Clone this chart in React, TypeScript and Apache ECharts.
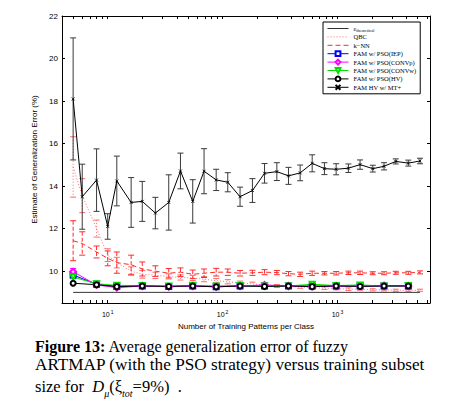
import React, { useEffect, useRef } from 'react';
import * as echarts from 'echarts';

// ---------- data ----------
const trainingSizes = [5, 6, 8, 10, 12, 16, 20, 26, 34, 43, 55, 69, 88, 111, 142, 182, 232, 297, 375, 474, 603, 771, 975, 1247, 1575, 2032, 2547, 3220, 4143, 5240];
const psoSizes = [5, 8, 12, 20, 34, 55, 88, 142, 232, 375, 603, 975, 1575, 2547, 4143];
const theoreticalSizes = [5, 5240];
const theoreticalError = [9.0, 9.0];

const qbcMean = [14.9, 13.55, 12.0, 10.75, 10.4, 10.0, 9.85, 9.8, 9.75, 9.7, 9.68, 9.62, 9.55, 9.5, 9.45, 9.4, 9.35, 9.3, 9.28, 9.25, 9.22, 9.2, 9.18, 9.15, 9.15, 9.12, 9.12, 9.1, 9.1, 9.1];
const qbcErr = [1.42, 0.8, 0.4, 0.3, 0.25, 0.2, 0.18, 0.15, 0.12, 0.12, 0.12, 0.12, 0.1, 0.1, 0.08, 0.08, 0.08, 0.07, 0.07, 0.06, 0.06, 0.06, 0.06, 0.06, 0.05, 0.05, 0.05, 0.05, 0.05, 0.05];
const knnMean = [11.43, 11.3, 10.9, 10.6, 10.4, 10.3, 10.1, 10.0, 9.9, 9.95, 9.85, 9.9, 9.95, 9.95, 9.9, 9.92, 9.95, 9.93, 9.88, 9.85, 9.9, 9.9, 9.9, 9.92, 9.92, 9.9, 9.9, 9.92, 9.92, 9.94];
const knnErr = [0.94, 0.55, 0.28, 0.35, 0.5, 0.45, 0.33, 0.25, 0.22, 0.2, 0.2, 0.2, 0.18, 0.15, 0.13, 0.12, 0.12, 0.1, 0.1, 0.1, 0.1, 0.08, 0.08, 0.08, 0.08, 0.07, 0.07, 0.07, 0.07, 0.07];

const iepMean = [9.82, 9.38, 9.28, 9.3, 9.28, 9.3, 9.27, 9.3, 9.3, 9.3, 9.3, 9.3, 9.3, 9.3, 9.3];
const iepErr = [0.1, 0.04, 0.04, 0.04, 0.04, 0.04, 0.04, 0.04, 0.04, 0.04, 0.04, 0.04, 0.04, 0.04, 0.04];
const convpMean = [9.97, 9.35, 9.22, 9.3, 9.26, 9.3, 9.26, 9.3, 9.35, 9.3, 9.28, 9.3, 9.3, 9.32, 9.3];
const convpErr = [0.15, 0.04, 0.04, 0.04, 0.04, 0.04, 0.04, 0.04, 0.05, 0.04, 0.04, 0.04, 0.04, 0.04, 0.04];
const convwMean = [9.72, 9.4, 9.33, 9.32, 9.3, 9.33, 9.3, 9.32, 9.3, 9.3, 9.38, 9.32, 9.35, 9.3, 9.32];
const convwErr = [0.08, 0.04, 0.04, 0.04, 0.04, 0.04, 0.04, 0.04, 0.04, 0.04, 0.05, 0.04, 0.04, 0.04, 0.04];
const hvMean = [9.43, 9.36, 9.27, 9.3, 9.28, 9.3, 9.26, 9.3, 9.28, 9.3, 9.27, 9.3, 9.28, 9.3, 9.3];
const hvErr = [0.05, 0.04, 0.04, 0.04, 0.04, 0.04, 0.04, 0.04, 0.04, 0.04, 0.04, 0.04, 0.04, 0.04, 0.04];

const mtMean = [18.1, 13.5, 14.28, 12.1, 14.24, 13.23, 13.28, 12.73, 13.23, 14.71, 13.28, 14.7, 14.29, 14.18, 13.5, 13.79, 14.6, 14.68, 14.48, 14.62, 15.07, 14.82, 14.79, 14.84, 15.01, 14.82, 14.93, 15.16, 15.08, 15.18];
const mtErr = [2.87, 1.53, 1.47, 0.6, 1.17, 1.17, 0.94, 0.74, 1.3, 0.84, 1.02, 1.06, 0.5, 0.45, 0.45, 0.56, 0.46, 0.42, 0.4, 0.37, 0.4, 0.28, 0.26, 0.2, 0.22, 0.16, 0.17, 0.12, 0.14, 0.13];

const seriesNames = ['ε theoretical', 'QBC', 'k−NN', 'FAM w/ PSO(IEP)', 'FAM w/ PSO(CONVp)', 'FAM w/ PSO(CONVw)', 'FAM w/ PSO(HV)', 'FAM HV w/ MT+'];

const xMajorTicks = [10, 100, 1000];
const xAllTicks = [5, 6, 7, 8, 9, 10, 20, 30, 40, 50, 60, 70, 80, 90, 100, 200, 300, 400, 500, 600, 700, 800, 900, 1000, 2000, 3000, 4000, 5000, 6000];
const yTicks = [10, 12, 14, 16, 18, 20, 22];
const xRange = [4, 6400];
const yRange = [8.5, 22];

const xAxisTitle = 'Number of Training Patterns per Class';
const yAxisTitle = 'Estimate of Generalization Error (%)';

// ---------- helpers ----------
const lg = (v: number) => Math.log10(v);
const SANS = 'Liberation Sans';
const SERIF = 'Liberation Serif';

function lineSeries(name: string, xs: number[], ys: number[], color: string, extra: any = {}) {
  return {
    type: 'line',
    name,
    xAxisIndex: 0,
    yAxisIndex: 0,
    data: xs.map((x, i) => [lg(x), ys[i]]),
    color,
    symbol: 'none',
    showAllSymbol: true,
    lineStyle: { color, width: 1 },
    itemStyle: { color, borderColor: color, borderWidth: 1 },
    emphasis: { disabled: true },
    ...extra,
  };
}

function errSeries(id: string, xs: number[], mean: number[], err: number[], color: string, dash: number[] | null) {
  return {
    type: 'custom',
    name: id,
    xAxisIndex: 0,
    yAxisIndex: 0,
    silent: true,
    data: xs.map((x, i) => [lg(x), mean[i] - err[i], mean[i] + err[i]]),
    encode: { x: 0, y: [1, 2] },
    renderItem: (params: any, api: any) => {
      const x = api.value(0);
      const p1 = api.coord([x, api.value(2)]);
      const p2 = api.coord([x, api.value(1)]);
      const cap = 3;
      const vStyle: any = { stroke: color, lineWidth: 1, fill: null };
      if (dash) vStyle.lineDash = dash;
      const cStyle: any = { stroke: color, lineWidth: 1, fill: null };
      return {
        type: 'group',
        children: [
          { type: 'line', shape: { x1: p1[0], y1: p1[1], x2: p2[0], y2: p2[1] }, style: vStyle },
          { type: 'line', shape: { x1: p1[0] - cap, y1: p1[1], x2: p1[0] + cap, y2: p1[1] }, style: cStyle },
          { type: 'line', shape: { x1: p2[0] - cap, y1: p2[1], x2: p2[0] + cap, y2: p2[1] }, style: cStyle },
        ],
      };
    },
  };
}

export default function App() {
  const ref = useRef<HTMLDivElement>(null);
  useEffect(() => {
    if (!ref.current) return;
    const chart = echarts.init(ref.current, null, { renderer: 'svg' });

    const RED = '#ff2a2a';
    const QBC_RED = '#ff6a6a';
    const BLUE = '#0000ff';
    const MAGENTA = '#ff00ff';
    const GREEN = '#00e000';
    const BLACK = '#000000';

    const axisLine = { show: true, lineStyle: { color: '#000', width: 1 } };
    const xTick = { show: true, inside: true, length: 3, customValues: xAllTicks.map(lg), lineStyle: { color: '#000', width: 1 } };
    const yTick = { show: true, inside: true, length: 3, customValues: yTicks, lineStyle: { color: '#000', width: 1 } };

    const legendData = seriesNames.map((n, i) =>
      i < 3 ? { name: n, itemStyle: { opacity: 0 } } : { name: n }
    );

    const option: any = {
      animation: false,
      backgroundColor: '#fff',
      grid: { left: 62, right: 44, top: 16, bottom: 96, containLabel: false },
      xAxis: [
        {
          type: 'value', position: 'bottom', min: lg(xRange[0]), max: lg(xRange[1]),
          axisLine, axisTick: xTick, splitLine: { show: false },
          axisLabel: {
            customValues: xMajorTicks.map(lg), margin: 6,
            formatter: (v: number) => `{b|10}{s|${Math.round(v)}}`,
            rich: {
              b: { fontFamily: SANS, fontSize: 7, color: '#000', lineHeight: 11 },
              s: { fontFamily: SANS, fontSize: 5, color: '#000', lineHeight: 6, verticalAlign: 'top', padding: [0, 0, 0, 1] },
            },
          },
          name: xAxisTitle, nameLocation: 'middle', nameGap: 16,
          nameTextStyle: { fontFamily: SANS, fontSize: 8, color: '#000' },
        },
        {
          type: 'value', position: 'top', min: lg(xRange[0]), max: lg(xRange[1]),
          axisLine, axisTick: xTick, axisLabel: { show: false }, splitLine: { show: false },
        },
      ],
      yAxis: [
        {
          type: 'value', position: 'left', min: yRange[0], max: yRange[1],
          axisLine, axisTick: yTick, splitLine: { show: false },
          axisLabel: { customValues: yTicks, fontFamily: SANS, fontSize: 8, color: '#000', margin: 4 },
          name: yAxisTitle, nameLocation: 'middle', nameGap: 16, nameRotate: 90,
          nameTextStyle: { fontFamily: SANS, fontSize: 8, color: '#000' },
        },
        {
          type: 'value', position: 'right', min: yRange[0], max: yRange[1],
          axisLine, axisTick: yTick, axisLabel: { show: false }, splitLine: { show: false },
        },
      ],
      legend: {
        data: legendData,
        orient: 'vertical',
        left: 323,
        top: 22,
        itemWidth: 21,
        itemHeight: 6,
        itemGap: 1.4,
        padding: [3, 4, 3, 4],
        borderColor: '#000',
        borderWidth: 1,
        backgroundColor: '#fff',
        selectedMode: false,
        lineStyle: { width: 1 },
        formatter: (name: string) => (name === seriesNames[0] ? '{e|ε}{sub|theoretical}' : name),
        textStyle: {
          fontFamily: SERIF, fontSize: 6.5, color: '#000', lineHeight: 7,
          rich: {
            e: { fontFamily: SERIF, fontSize: 6.5, color: '#000', lineHeight: 7 },
            sub: { fontFamily: SERIF, fontSize: 4.3, color: '#000', lineHeight: 5, verticalAlign: 'bottom' },
          },
        },
      },
      series: [
        lineSeries(seriesNames[0], theoreticalSizes, theoreticalError, '#333'),
        errSeries('err-qbc', trainingSizes, qbcMean, qbcErr, QBC_RED, [1, 2]),
        lineSeries(seriesNames[1], trainingSizes, qbcMean, QBC_RED, { lineStyle: { color: QBC_RED, width: 1, type: [1, 2] } }),
        errSeries('err-knn', trainingSizes, knnMean, knnErr, RED, [4, 2]),
        lineSeries(seriesNames[2], trainingSizes, knnMean, RED, { lineStyle: { color: RED, width: 1, type: [5, 3] } }),
        errSeries('err-iep', psoSizes, iepMean, iepErr, BLUE, null),
        lineSeries(seriesNames[3], psoSizes, iepMean, BLUE, { symbol: 'emptyRect', symbolSize: 5 }),
        errSeries('err-convp', psoSizes, convpMean, convpErr, MAGENTA, null),
        lineSeries(seriesNames[4], psoSizes, convpMean, MAGENTA, { symbol: 'emptyDiamond', symbolSize: 6 }),
        errSeries('err-convw', psoSizes, convwMean, convwErr, GREEN, null),
        lineSeries(seriesNames[5], psoSizes, convwMean, GREEN, { symbol: 'emptyTriangle', symbolRotate: 180, symbolSize: 5 }),
        errSeries('err-hv', psoSizes, hvMean, hvErr, BLACK, null),
        lineSeries(seriesNames[6], psoSizes, hvMean, BLACK, { symbol: 'emptyCircle', symbolSize: 5 }),
        errSeries('err-mt', trainingSizes, mtMean, mtErr, '#3a3a3a', null),
        lineSeries(seriesNames[7], trainingSizes, mtMean, BLACK, {
          symbol: 'path://M0 0L10 10M10 0L0 10', symbolSize: 3,
          itemStyle: { color: BLACK, borderColor: BLACK, borderWidth: 0.8 },
        }),
      ],
      graphic: [
        {
          type: 'text', x: 35, y: 346,
          style: {
            text: '{b|Figure 13:}{r| Average generalization error of fuzzy}',
            verticalAlign: 'middle', fill: '#000',
            rich: {
              b: { fontFamily: SERIF, fontSize: 16, fontWeight: 'bold', fill: '#000' },
              r: { fontFamily: SERIF, fontSize: 16, fill: '#000' },
            },
          },
        },
        {
          type: 'text', x: 35, y: 364,
          style: {
            text: 'ARTMAP (with the PSO strategy) versus training subset',
            fontFamily: SERIF, fontSize: 17.2, fill: '#000', verticalAlign: 'middle',
          },
        },
        {
          type: 'text', x: 35, y: 386,
          style: {
            text: '{r|size for  }{i|D}{s|μ}{r|(ξ}{si|tot}{r|=9%)  .}',
            verticalAlign: 'middle', fill: '#000',
            rich: {
              r: { fontFamily: SERIF, fontSize: 16.5, fill: '#000', lineHeight: 24 },
              i: { fontFamily: SERIF, fontSize: 16.5, fontStyle: 'italic', fill: '#000', lineHeight: 24 },
              s: { fontFamily: SERIF, fontSize: 10, fontStyle: 'italic', fill: '#000', lineHeight: 10, verticalAlign: 'bottom' },
              si: { fontFamily: SERIF, fontSize: 10, fontStyle: 'italic', fill: '#000', lineHeight: 10, verticalAlign: 'bottom' },
            },
          },
        },
      ],
    };
    chart.setOption(option);
    return () => chart.dispose();
  }, []);
  return <div ref={ref} style={{ position: 'fixed', left: 0, top: 0, width: 474, height: 399 }} />;
}
